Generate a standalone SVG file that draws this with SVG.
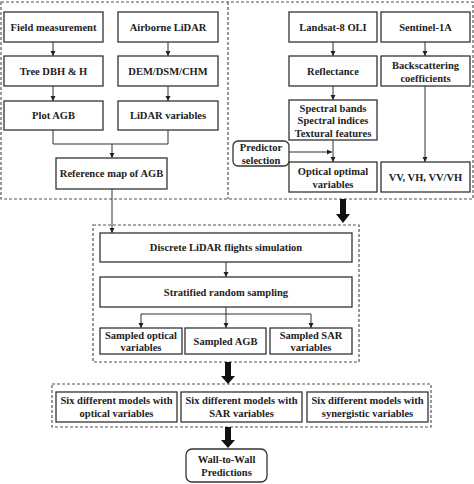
<svg xmlns="http://www.w3.org/2000/svg" width="474" height="484" viewBox="0 0 474 484">
<defs>
<marker id="ah" markerWidth="6" markerHeight="6" refX="5" refY="3" orient="auto" markerUnits="userSpaceOnUse">
<path d="M0,0.5 L5,3 L0,5.5 Z" fill="#222"/>
</marker>
<style>
.box{fill:#fff;stroke:#333;stroke-width:1.3}
.frame{fill:none;stroke:#555;stroke-width:1.2;stroke-dasharray:3,2}
.ln{fill:none;stroke:#333;stroke-width:1}
.arr{fill:none;stroke:#333;stroke-width:1;marker-end:url(#ah)}
.thick{fill:#111}
text{font-family:"Liberation Serif","DejaVu Serif",serif;font-size:10.5px;font-weight:bold;fill:#222;text-anchor:middle}
</style>
</defs>
<rect width="474" height="484" fill="#fff"/>
<g id="frames">
<rect class="frame" x="1" y="2" width="472" height="197"/>
<line class="frame" x1="228" y1="2" x2="228" y2="199"/>
<rect class="frame" x="93" y="225" width="266" height="137"/>
<rect class="frame" x="52" y="384" width="379" height="43"/>
</g>
<g id="connectors">
<line class="arr" x1="53" y1="42" x2="53" y2="56"/>
<line class="arr" x1="168" y1="42" x2="168" y2="56"/>
<line class="arr" x1="53" y1="86" x2="53" y2="101"/>
<line class="arr" x1="168" y1="86" x2="168" y2="101"/>
<polyline class="ln" points="53,130 53,144 168,144 168,130"/>
<line class="arr" x1="112" y1="144" x2="112" y2="158"/>
<line class="arr" x1="112" y1="189" x2="112" y2="233"/>
<line class="arr" x1="333" y1="42" x2="333" y2="56"/>
<line class="arr" x1="425" y1="42" x2="425" y2="56"/>
<line class="arr" x1="333" y1="86" x2="333" y2="100"/>
<line class="arr" x1="333" y1="140" x2="333" y2="162"/>
<line class="arr" x1="289" y1="152" x2="332" y2="152"/>
<line class="arr" x1="425" y1="86" x2="425" y2="162"/>
<line class="arr" x1="226" y1="262" x2="226" y2="277"/>
<polyline class="ln" points="226,307 226,314"/>
<polyline class="ln" points="141,314 311,314"/>
<line class="arr" x1="141" y1="314" x2="141" y2="328"/>
<line class="arr" x1="226" y1="314" x2="226" y2="328"/>
<line class="arr" x1="311" y1="314" x2="311" y2="328"/>
<path class="thick" d="M340,199 H346 V214 H350 L343,223 L336,214 H340 Z"/>
<path class="thick" d="M225,362 H231 V376 H235 L228,384 L221,376 H225 Z"/>
<path class="thick" d="M225,427 H231 V440 H235 L228,448 L221,440 H225 Z"/>
</g>
<g id="field"><rect class="box" x="4" y="12" width="99" height="30"/><text x="53.5" y="30.5">Field measurement</text></g>
<g id="airborne"><rect class="box" x="118" y="12" width="100" height="30"/><text x="168" y="30.5">Airborne LiDAR</text></g>
<g id="tree"><rect class="box" x="4" y="56" width="99" height="30"/><text x="53.5" y="74.5">Tree DBH &amp; H</text></g>
<g id="dem"><rect class="box" x="118" y="56" width="100" height="30"/><text x="168" y="74.5">DEM/DSM/CHM</text></g>
<g id="plot"><rect class="box" x="4" y="101" width="99" height="29"/><text x="53.5" y="119">Plot AGB</text></g>
<g id="lidarvars"><rect class="box" x="118" y="101" width="100" height="29"/><text x="168" y="119">LiDAR variables</text></g>
<g id="refmap"><rect class="box" x="56" y="158" width="111" height="31"/><text x="111.5" y="177">Reference map of AGB</text></g>
<g id="landsat"><rect class="box" x="289" y="12" width="88" height="30"/><text x="333" y="30.5">Landsat-8 OLI</text></g>
<g id="sentinel"><rect class="box" x="381" y="12" width="89" height="30"/><text x="425.5" y="30.5">Sentinel-1A</text></g>
<g id="reflectance"><rect class="box" x="289" y="56" width="88" height="30"/><text x="333" y="74.5">Reflectance</text></g>
<g id="backscatter"><rect class="box" x="381" y="56" width="89" height="30"/><text x="425.5" y="68.5">Backscattering</text><text x="425.5" y="81.5">coefficients</text></g>
<g id="spectral"><rect class="box" x="289" y="100" width="88" height="40"/><text x="333" y="111.5">Spectral bands</text><text x="333" y="124">Spectral indices</text><text x="333" y="136.5">Textural features</text></g>
<g id="predictor"><rect class="box" x="233" y="141" width="56" height="25" rx="5"/><text x="261" y="151">Predictor</text><text x="261" y="163.5">selection</text></g>
<g id="optical"><rect class="box" x="289" y="162" width="88" height="30"/><text x="333" y="175">Optical optimal</text><text x="333" y="188">variables</text></g>
<g id="vv"><rect class="box" x="381" y="162" width="89" height="30"/><text x="425.5" y="180.5">VV, VH, VV/VH</text></g>
<g id="discrete"><rect class="box" x="100" y="233" width="252" height="29"/><text x="226" y="251">Discrete LiDAR flights simulation</text></g>
<g id="stratified"><rect class="box" x="100" y="277" width="252" height="30"/><text x="226" y="295.5">Stratified random sampling</text></g>
<g id="s_optical"><rect class="box" x="100" y="328" width="82" height="26"/><text x="141" y="339">Sampled optical</text><text x="141" y="351">variables</text></g>
<g id="s_agb"><rect class="box" x="185" y="328" width="81" height="26"/><text x="225.5" y="345">Sampled AGB</text></g>
<g id="s_sar"><rect class="box" x="270" y="328" width="82" height="26"/><text x="311" y="339">Sampled SAR</text><text x="311" y="351">variables</text></g>
<g id="m_optical"><rect class="box" x="56" y="392" width="121" height="30"/><text x="116.5" y="403.5">Six different models with</text><text x="116.5" y="416.5">optical variables</text></g>
<g id="m_sar"><rect class="box" x="181" y="392" width="121" height="30"/><text x="241.5" y="403.5">Six different models with</text><text x="241.5" y="416.5">SAR variables</text></g>
<g id="m_syn"><rect class="box" x="307" y="392" width="121" height="30"/><text x="367.5" y="403.5">Six different models with</text><text x="367.5" y="416.5">synergistic variables</text></g>
<g id="wall"><rect class="box" x="186" y="449" width="81" height="33" rx="6"/><text x="226.5" y="462.5">Wall-to-Wall</text><text x="226.5" y="476">Predictions</text></g>
</svg>
